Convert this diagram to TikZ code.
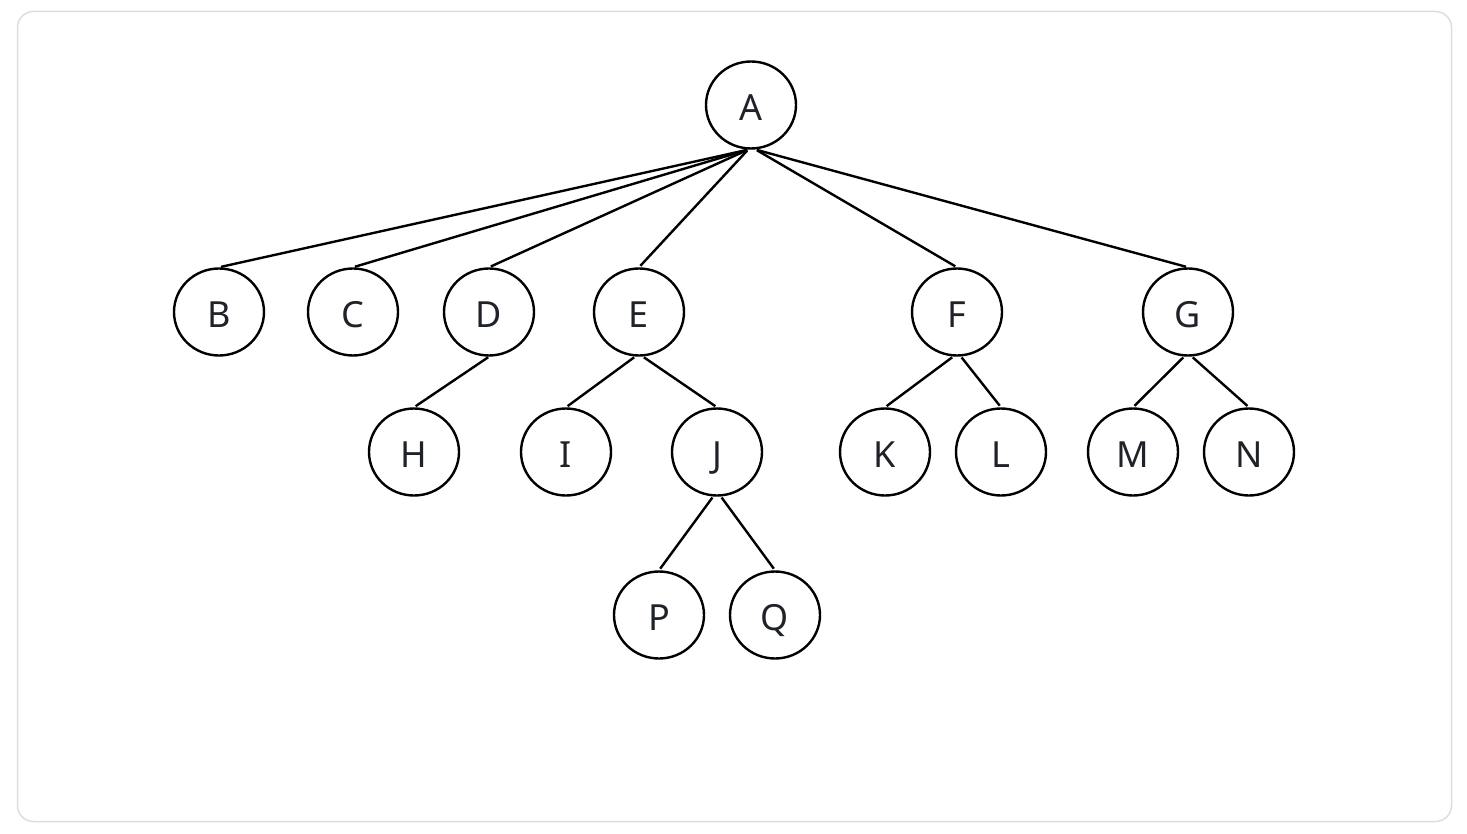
\documentclass[tikz,border=0pt]{standalone}
\usepackage{fontspec}
\setmainfont{Noto Sans}
\usetikzlibrary{shapes.geometric}
\definecolor{framegray}{HTML}{DDDDDD}
\definecolor{labelink}{HTML}{1F2329}
\begin{document}
\begin{tikzpicture}[x=1pt,y=-1pt,
    vertex/.style={ellipse,draw,line width=2.4pt,minimum width=90pt,minimum height=87pt,
      inner sep=0pt,text height=31.5pt,text depth=0pt,text=labelink,font=\fontsize{36}{40}\selectfont},
    edge/.style={line width=2.4pt,shorten <=1pt,shorten >=2pt}]
      \useasboundingbox (0,0) rectangle (1467,834);
      \draw[framegray,line width=1.5pt,rounded corners=16pt] (17.5,11.5) rectangle (1451.5,821.5);
      \draw
        (751,105) node[vertex] (A){A}
        (219,312) node[vertex] (B){B}
        (353,312) node[vertex] (C){C}
        (489,312) node[vertex] (D){D}
        (639,312) node[vertex] (E){E}
        (957,312) node[vertex] (F){F}
        (1188,312) node[vertex] (G){G}
        (414,452) node[vertex] (H){H}
        (566,452) node[vertex] (I){I}
        (717,452) node[vertex] (J){J}
        (885,452) node[vertex] (K){K}
        (1001,452) node[vertex] (L){L}
        (1133,452) node[vertex] (M){M}
        (1249,452) node[vertex] (N){N}
        (659,615) node[vertex] (P){P}
        (775,615) node[vertex] (Q){Q};
      \begin{scope}[edge]
        \draw ([xshift=-3pt]A.south) to (B.north);
        \draw ([xshift=-3pt]A.south) to (C.north);
        \draw ([xshift=-3pt]A.south) to (D.north);
        \draw ([xshift=-3pt]A.south) to (E.north);
        \draw ([xshift=5pt]A.south) to (F.north);
        \draw ([xshift=5pt]A.south) to (G.north);
        \draw (D.south) to (H.north);
        \draw ([xshift=-4pt]E.south) to (I.north);
        \draw ([xshift=4pt]E.south) to (J.north);
        \draw ([xshift=-4pt]F.south) to (K.north);
        \draw ([xshift=4pt]F.south) to (L.north);
        \draw ([xshift=-4pt]G.south) to (M.north);
        \draw ([xshift=4pt]G.south) to (N.north);
        \draw ([xshift=-4pt]J.south) to (P.north);
        \draw ([xshift=4pt]J.south) to (Q.north);
      \end{scope}
    \end{tikzpicture}
\end{document}
